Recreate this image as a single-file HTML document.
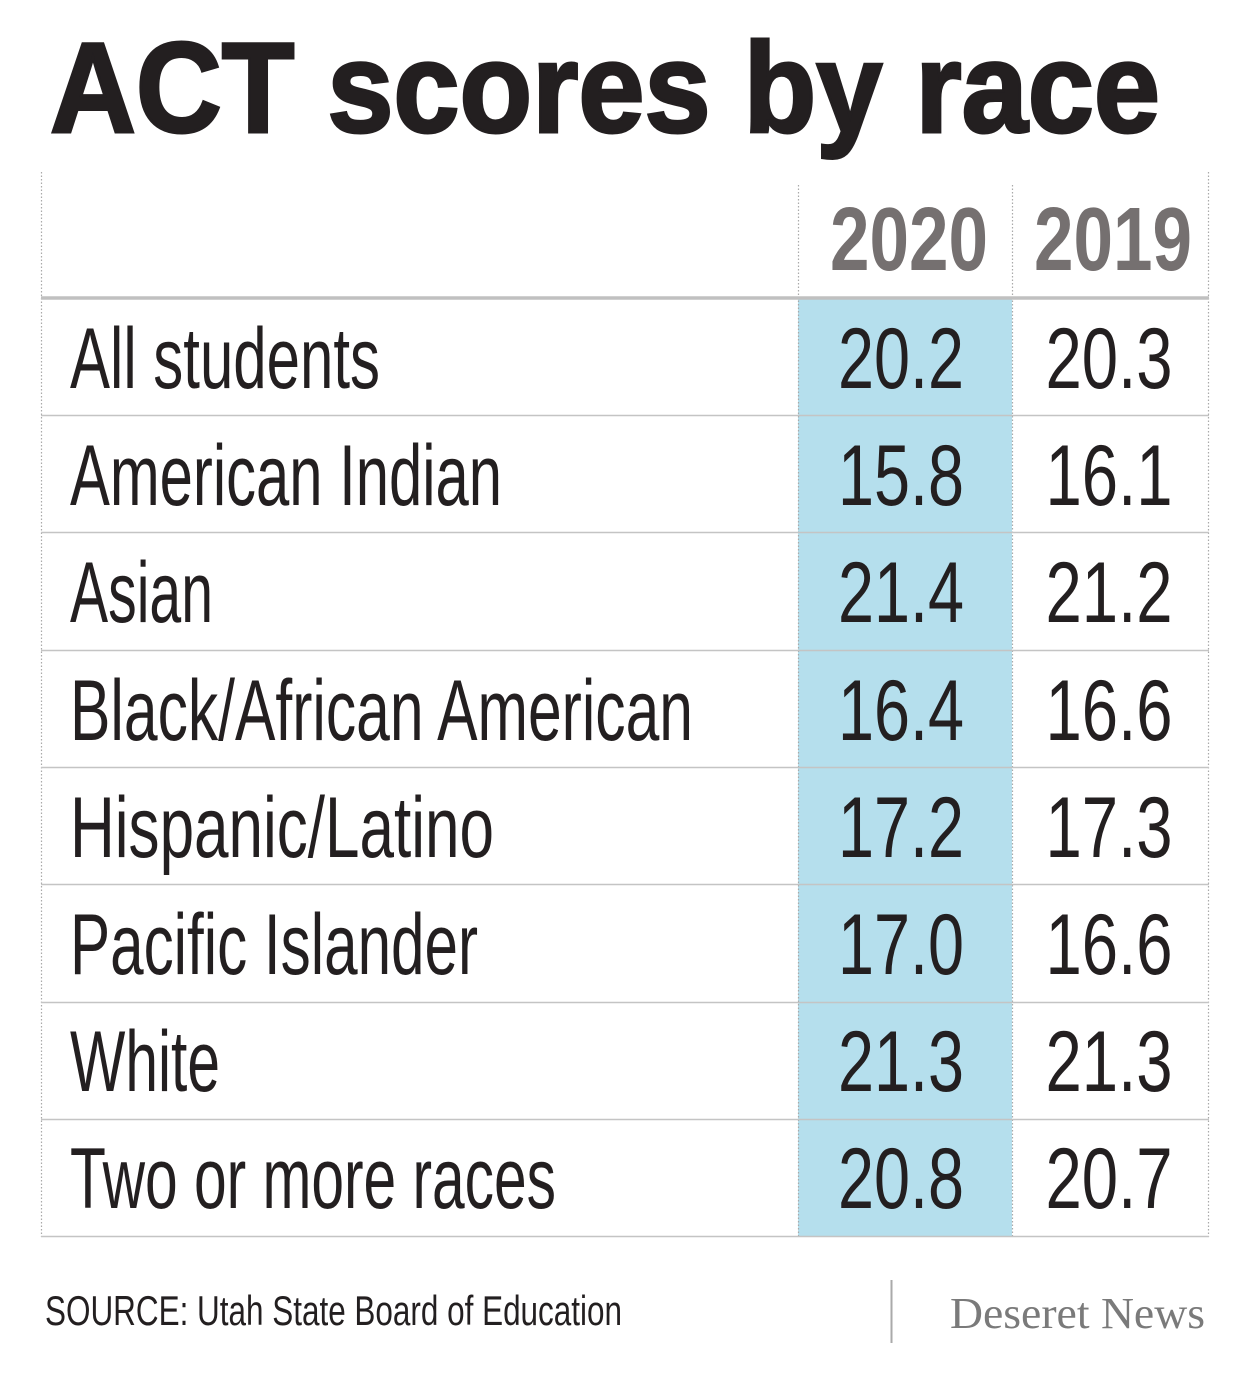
<!DOCTYPE html>
<html><head><meta charset="utf-8"><style>html,body{margin:0;padding:0;background:#fff}svg{display:block}</style></head>
<body>
<svg width="1250" height="1388" viewBox="0 0 1250 1388" xmlns="http://www.w3.org/2000/svg" font-family="Liberation Sans, sans-serif">
<rect width="1250" height="1388" fill="#fff"/>
<text x="50" y="132" font-size="128" font-weight="bold" fill="#231f20" stroke="#231f20" stroke-width="3" textLength="1110" lengthAdjust="spacingAndGlyphs">ACT scores by race</text>
<rect x="798" y="298" width="214" height="938" fill="#b5dfed"/>
<g stroke="#aaa" stroke-width="1.2" stroke-dasharray="1.5,2">
<line x1="41.5" y1="172" x2="41.5" y2="1237"/>
<line x1="798.5" y1="185" x2="798.5" y2="1237"/>
<line x1="1012.5" y1="185" x2="1012.5" y2="1237"/>
<line x1="1208.5" y1="172" x2="1208.5" y2="1237"/>
</g>
<line x1="41" y1="298" x2="1209" y2="298" stroke="#c0c0c0" stroke-width="3.5"/>
<g stroke="#c4c4c4" stroke-width="1.5">
<line x1="41" y1="415.5" x2="1209" y2="415.5"/>
<line x1="41" y1="532.5" x2="1209" y2="532.5"/>
<line x1="41" y1="650.5" x2="1209" y2="650.5"/>
<line x1="41" y1="767.5" x2="1209" y2="767.5"/>
<line x1="41" y1="884.5" x2="1209" y2="884.5"/>
<line x1="41" y1="1002.5" x2="1209" y2="1002.5"/>
<line x1="41" y1="1119.5" x2="1209" y2="1119.5"/>
<line x1="41" y1="1236.5" x2="1209" y2="1236.5"/>
</g>
<g font-size="90" font-weight="bold" fill="#757070">
<text x="830" y="270" textLength="158" lengthAdjust="spacingAndGlyphs">2020</text>
<text x="1034" y="270" textLength="158" lengthAdjust="spacingAndGlyphs">2019</text>
</g>
<g font-size="86" fill="#231f20">
<text x="70" y="388" textLength="310" lengthAdjust="spacingAndGlyphs">All students</text>
<text x="70" y="505" textLength="432" lengthAdjust="spacingAndGlyphs">American Indian</text>
<text x="70" y="622" textLength="143" lengthAdjust="spacingAndGlyphs">Asian</text>
<text x="70" y="740" textLength="623" lengthAdjust="spacingAndGlyphs">Black/African American</text>
<text x="70" y="857" textLength="424" lengthAdjust="spacingAndGlyphs">Hispanic/Latino</text>
<text x="70" y="974" textLength="408" lengthAdjust="spacingAndGlyphs">Pacific Islander</text>
<text x="70" y="1091" textLength="150" lengthAdjust="spacingAndGlyphs">White</text>
<text x="70" y="1208" textLength="486" lengthAdjust="spacingAndGlyphs">Two or more races</text>
</g>
<g font-size="86" fill="#231f20" text-anchor="middle">
<text x="901" y="388" textLength="126" lengthAdjust="spacingAndGlyphs">20.2</text>
<text x="901" y="505" textLength="126" lengthAdjust="spacingAndGlyphs">15.8</text>
<text x="901" y="622" textLength="126" lengthAdjust="spacingAndGlyphs">21.4</text>
<text x="901" y="740" textLength="126" lengthAdjust="spacingAndGlyphs">16.4</text>
<text x="901" y="857" textLength="126" lengthAdjust="spacingAndGlyphs">17.2</text>
<text x="901" y="974" textLength="126" lengthAdjust="spacingAndGlyphs">17.0</text>
<text x="901" y="1091" textLength="126" lengthAdjust="spacingAndGlyphs">21.3</text>
<text x="901" y="1208" textLength="126" lengthAdjust="spacingAndGlyphs">20.8</text>
<text x="1109" y="388" textLength="127" lengthAdjust="spacingAndGlyphs">20.3</text>
<text x="1109" y="505" textLength="127" lengthAdjust="spacingAndGlyphs">16.1</text>
<text x="1109" y="622" textLength="127" lengthAdjust="spacingAndGlyphs">21.2</text>
<text x="1109" y="740" textLength="127" lengthAdjust="spacingAndGlyphs">16.6</text>
<text x="1109" y="857" textLength="127" lengthAdjust="spacingAndGlyphs">17.3</text>
<text x="1109" y="974" textLength="127" lengthAdjust="spacingAndGlyphs">16.6</text>
<text x="1109" y="1091" textLength="127" lengthAdjust="spacingAndGlyphs">21.3</text>
<text x="1109" y="1208" textLength="127" lengthAdjust="spacingAndGlyphs">20.7</text>
</g>
<text x="45" y="1325" font-size="42" fill="#231f20" textLength="577" lengthAdjust="spacingAndGlyphs">SOURCE: Utah State Board of Education</text>
<line x1="891.5" y1="1280" x2="891.5" y2="1343" stroke="#aaa" stroke-width="2"/>
<text x="950" y="1328" font-family="Liberation Serif, serif" font-size="44" fill="#7a7a7a" textLength="255" lengthAdjust="spacingAndGlyphs">Deseret News</text>
</svg>
</body></html>
